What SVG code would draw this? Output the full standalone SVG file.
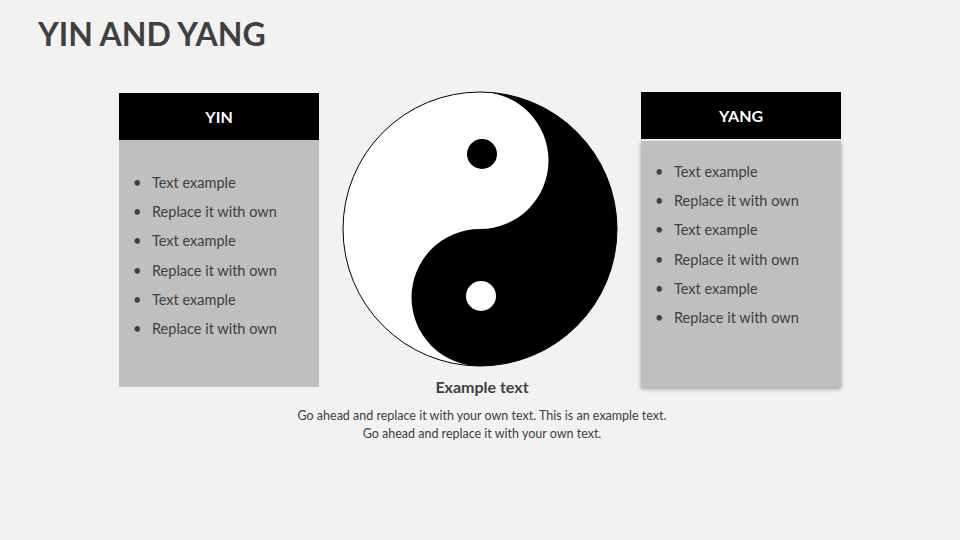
<svg xmlns="http://www.w3.org/2000/svg" width="960" height="540" viewBox="0 0 960 540">
<defs>
<style>
text{font-family:Lato,"Open Sans","Liberation Sans",sans-serif}
.b{font-size:14.5px;fill:#404040}
.h{font-size:16px;font-weight:bold;fill:#fff}
.body{fill:#bfbfbf}
</style>
<filter id="sh" x="-10%" y="-10%" width="120%" height="120%"><feDropShadow dx="0" dy="2" stdDeviation="2" flood-color="#000" flood-opacity="0.35"/></filter>
</defs>
<rect width="960" height="540" fill="#f2f2f2"/>
<text x="38" y="46" style="font-size:32px;font-weight:bold;fill:#404040">YIN AND YANG</text>
<g id="yin">
<rect class="body" x="119" y="140" width="200" height="247"/>
<rect x="119" y="93" width="200" height="47" fill="#000"/>
<text class="h" x="219" y="123" text-anchor="middle">YIN</text>
<g class="b">
<text x="133" y="188">•</text><text x="152" y="188">Text example</text>
<text x="133" y="217">•</text><text x="152" y="217">Replace it with own</text>
<text x="133" y="246">•</text><text x="152" y="246">Text example</text>
<text x="133" y="276">•</text><text x="152" y="276">Replace it with own</text>
<text x="133" y="305">•</text><text x="152" y="305">Text example</text>
<text x="133" y="334">•</text><text x="152" y="334">Replace it with own</text>
</g>
</g>
<g id="yang">
<rect class="body" x="641" y="141" width="200" height="246" filter="url(#sh)"/>
<rect x="641" y="92" width="200" height="47" fill="#000"/>
<text class="h" x="741" y="122" text-anchor="middle">YANG</text>
<g class="b">
<text x="655" y="177">•</text><text x="674" y="177">Text example</text>
<text x="655" y="206">•</text><text x="674" y="206">Replace it with own</text>
<text x="655" y="235">•</text><text x="674" y="235">Text example</text>
<text x="655" y="265">•</text><text x="674" y="265">Replace it with own</text>
<text x="655" y="294">•</text><text x="674" y="294">Text example</text>
<text x="655" y="323">•</text><text x="674" y="323">Replace it with own</text>
</g>
</g>
<g id="symbol">
<circle cx="480" cy="229" r="137" fill="#fff" stroke="#000" stroke-width="1"/>
<path d="M480,92 A137,137 0 0 1 480,366 A68.5,68.5 0 0 1 480,229 A68.5,68.5 0 0 0 480,92 Z" fill="#000"/>
<circle cx="482" cy="154" r="15" fill="#000"/>
<circle cx="481" cy="296" r="15" fill="#fff"/>
</g>
<g id="caption">
<text x="482" y="393" text-anchor="middle" style="font-size:16px;font-weight:bold;fill:#404040">Example text</text>
<text x="482" y="420" text-anchor="middle" style="font-size:12.5px;fill:#404040">Go ahead and replace it with your own text. This is an example text.</text>
<text x="482" y="438" text-anchor="middle" style="font-size:12.5px;fill:#404040">Go ahead and replace it with your own text.</text>
</g>
<g id="connectors"/>
</svg>
